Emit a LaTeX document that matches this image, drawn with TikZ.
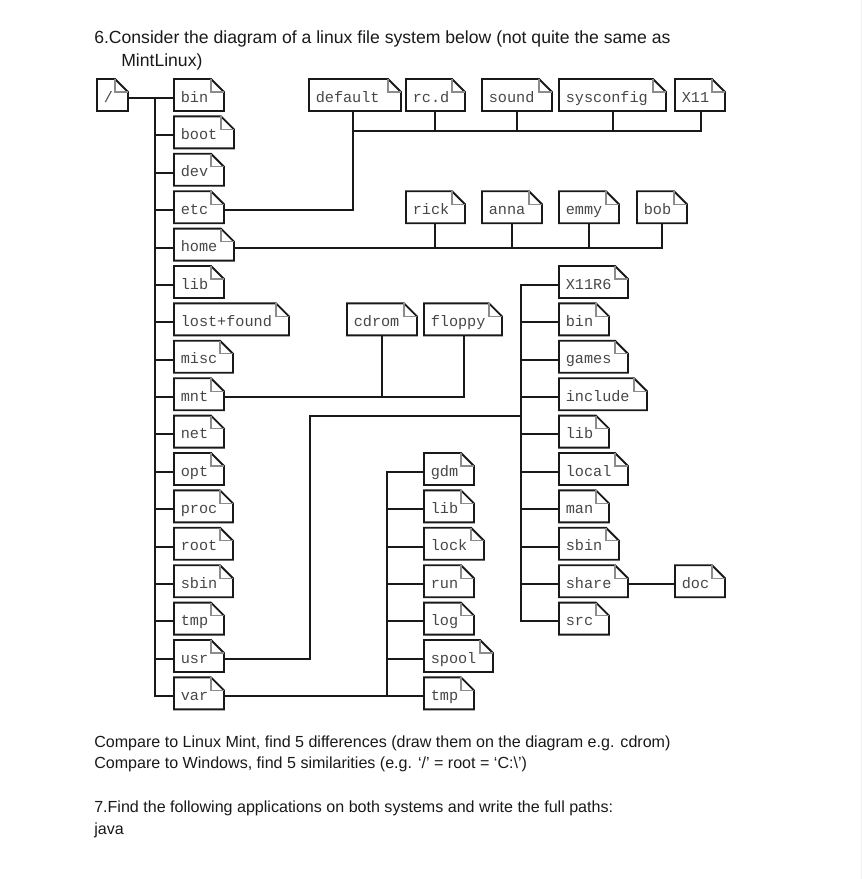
\documentclass[tikz,border=0pt]{standalone}
\usepackage{fontspec}
\setmainfont{Liberation Sans}
\newfontfamily\boxfont{Liberation Mono}
\newcommand{\filebox}[5]{% name, left, right, centre y, text
  \node[fbody] (#1) at ({(#2+#3)/2},#4) [minimum width={(#3-#2)*0.75pt}] {};
  \draw[fline] ([xshift=-13*0.75pt]#1.north east) -- (#1.north west) -- (#1.south west) -- (#1.south east) -- ([yshift=-13*0.75pt]#1.north east) -- cycle;
  \draw[fold] ([xshift=-13*0.75pt]#1.north east) |- ([yshift=-13*0.75pt]#1.north east);
  \node[flabel] (#1t) at ([xshift=6.5*0.75pt,yshift=-3*0.75pt]#1.west) {#5};
}
\tikzset{
  fbody/.style={minimum height=24pt,inner sep=0pt,outer sep=0pt},
  fline/.style={line width=1.4pt,black!90,line join=miter},
  fold/.style={line width=1pt,black!45},
  flabel/.style={anchor=west,inner sep=0pt,text height=8pt,text depth=2pt,font=\boxfont\fontsize{11.4pt}{13pt}\selectfont,text=black!72},
  link/.style={line width=1.4pt,black!90},
  parab/.style={anchor=west,inner sep=0pt,font=\fontsize{13.2pt}{15pt}\selectfont,text=black!90},
  para/.style={anchor=west,inner sep=0pt,font=\fontsize{12.05pt}{15pt}\selectfont,text=black!90},
}
\begin{document}
\begin{tikzpicture}[x=0.75pt,y=-0.75pt]
\useasboundingbox (0,0) rectangle (862,879);
\fill[black!6] (860.5,0) rectangle (862,879);
\node[parab] (t1) at (94,39) {6.Consider the diagram of a linux file system below (not quite the same as};
\node[parab] (t2) at (121,62) {MintLinux)};
\node[para] (t3) at (94,743) {Compare to Linux Mint, find 5 differences (draw them on the diagram e.g. cdrom)};
\node[para] (t4) at (94,764) {Compare to Windows, find 5 similarities (e.g. `/' = root = `C:\textbackslash')};
\node[para] (t5) at (94,808) {7.Find the following applications on both systems and write the full paths:};
\node[para] (t6) at (94,830) {java};
% connectors first
\coordinate (trunk) at (155,98);
\coordinate (trunkend) at (155,696);
\draw[link] (128,98) -- (174,98);
\draw[link] (trunk) -- (trunkend) -- (174,696);
\foreach \y in {135,173,210,248,285,322,360,397,434,472,509,547,584,621,659}
  \draw[link] (155,\y) -- (174,\y);
\draw[link] (224,210) -- (353,210) -- (353,111);
\draw[link] (353,131) -- (701,131) -- (701,111);
\draw[link] (435,131) -- (435,111);
\draw[link] (517,131) -- (517,111);
\draw[link] (613,131) -- (613,111);
\draw[link] (234,248) -- (662,248) -- (662,223);
\draw[link] (435,248) -- (435,223);
\draw[link] (512,248) -- (512,223);
\draw[link] (589,248) -- (589,223);
\draw[link] (224,397) -- (464,397) -- (464,335);
\draw[link] (382,397) -- (382,335);
\draw[link] (224,659) -- (310,659) -- (310,416) -- (521,416);
\draw[link] (559,285) -- (521,285) -- (521,621) -- (559,621);
\foreach \y in {322,360,397,434,472,509,547,584}
  \draw[link] (521,\y) -- (559,\y);
\draw[link] (628,584) -- (675,584);
\draw[link] (224,696) -- (424,696);
\draw[link] (424,472) -- (387,472) -- (387,696);
\foreach \y in {509,547,584,621,659}
  \draw[link] (387,\y) -- (424,\y);
% file boxes
\filebox{root}{97}{128}{95}{/}
\filebox{bin}{174}{224}{95}{bin}
\filebox{boot}{174}{234}{132.4}{boot}
\filebox{dev}{174}{224}{169.8}{dev}
\filebox{etc}{174}{224}{207.2}{etc}
\filebox{home}{174}{234}{244.6}{home}
\filebox{lib}{174}{224}{282}{lib}
\filebox{lostfound}{174}{289}{319.4}{lost+found}
\filebox{misc}{174}{233}{356.8}{misc}
\filebox{mnt}{174}{224}{394.2}{mnt}
\filebox{net}{174}{224}{431.6}{net}
\filebox{opt}{174}{224}{469}{opt}
\filebox{proc}{174}{233}{506.4}{proc}
\filebox{rootd}{174}{233}{543.8}{root}
\filebox{sbin}{174}{233}{581.2}{sbin}
\filebox{tmp}{174}{224}{618.6}{tmp}
\filebox{usr}{174}{224}{656}{usr}
\filebox{var}{174}{224}{693.4}{var}
\filebox{default}{309}{401}{95}{default}
\filebox{rcd}{406}{465}{95}{rc.d}
\filebox{sound}{482}{552}{95}{sound}
\filebox{sysconfig}{559}{666}{95}{sysconfig}
\filebox{xi}{675}{725}{95}{X11}
\filebox{rick}{406}{465}{207.2}{rick}
\filebox{anna}{482}{542}{207.2}{anna}
\filebox{emmy}{559}{619}{207.2}{emmy}
\filebox{bob}{637}{687}{207.2}{bob}
\filebox{cdrom}{347}{417}{319.4}{cdrom}
\filebox{floppy}{424}{502}{319.4}{floppy}
\filebox{xr}{559}{628}{282}{X11R6}
\filebox{ubin}{559}{609}{319.4}{bin}
\filebox{games}{559}{628}{356.8}{games}
\filebox{include}{559}{647}{394.2}{include}
\filebox{ulib}{559}{609}{431.6}{lib}
\filebox{local}{559}{628}{469}{local}
\filebox{man}{559}{609}{506.4}{man}
\filebox{usbin}{559}{619}{543.8}{sbin}
\filebox{share}{559}{628}{581.2}{share}
\filebox{src}{559}{609}{618.6}{src}
\filebox{doc}{675}{725}{581.2}{doc}
\filebox{gdm}{424}{474}{469}{gdm}
\filebox{vlib}{424}{474}{506.4}{lib}
\filebox{lock}{424}{484}{543.8}{lock}
\filebox{run}{424}{474}{581.2}{run}
\filebox{log}{424}{474}{618.6}{log}
\filebox{spool}{424}{493}{656}{spool}
\filebox{vtmp}{424}{474}{693.4}{tmp}
\end{tikzpicture}
\end{document}
